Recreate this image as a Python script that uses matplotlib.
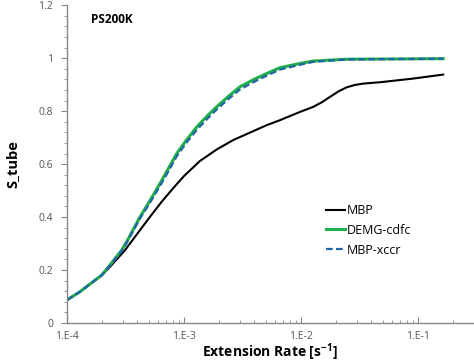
import numpy as np
import matplotlib
matplotlib.use("Agg")
import matplotlib.pyplot as plt
from matplotlib.ticker import FixedLocator, NullFormatter

plt.rcParams['font.family'] = ['Open Sans', 'DejaVu Sans']

# values (rate in 1/s, S_tube)
rate_mbp = [1.0e-4, 1.29e-4, 1.58e-4, 1.98e-4, 2.33e-4, 3.13e-4, 4.0e-4, 5.12e-4,
            6.5e-4, 8.11e-4, 1.0e-3, 1.37e-3, 1.9e-3, 2.64e-3, 3.8e-3, 5.09e-3,
            6.62e-3, 9.79e-3, 1.27e-2, 1.5e-2, 1.77e-2, 2.1e-2, 2.46e-2, 2.9e-2,
            3.41e-2, 4.73e-2, 9.12e-2, 1.64e-1]
s_mbp = [0.087, 0.118, 0.148, 0.180, 0.212, 0.275, 0.338, 0.401,
         0.460, 0.510, 0.555, 0.612, 0.655, 0.691, 0.722, 0.747,
         0.766, 0.797, 0.816, 0.833, 0.854, 0.875, 0.890, 0.899,
         0.904, 0.909, 0.923, 0.938]

rate_model = [1.0e-4, 1.29e-4, 1.58e-4, 1.98e-4, 2.33e-4, 2.93e-4, 3.24e-4, 4.21e-4,
              5.13e-4, 6.24e-4, 7.41e-4, 8.67e-4, 1.05e-3, 1.29e-3, 1.58e-3, 1.90e-3,
              2.40e-3, 3.01e-3, 3.98e-3, 5.09e-3, 6.62e-3, 9.79e-3, 1.27e-2, 2.46e-2,
              1.64e-1]
s_demg = [0.087, 0.118, 0.148, 0.181, 0.219, 0.275, 0.307, 0.401,
          0.463, 0.527, 0.586, 0.640, 0.691, 0.741, 0.782, 0.816,
          0.856, 0.892, 0.920, 0.942, 0.964, 0.980, 0.989, 0.996,
          0.998]
s_xccr = [0.087, 0.118, 0.148, 0.180, 0.217, 0.272, 0.303, 0.395,
          0.455, 0.518, 0.575, 0.630, 0.681, 0.730, 0.771, 0.806,
          0.846, 0.882, 0.911, 0.934, 0.957, 0.975, 0.986, 0.995,
          0.998]

fig = plt.figure(figsize=(4.74, 3.62), dpi=100)
ax = fig.add_axes([0.1414, 0.1077, 0.8565, 0.878])

ax.plot(rate_mbp, s_mbp, color='black', lw=1.5, label='MBP')
ax.plot(rate_model, s_demg, color='#1fae4a', lw=2.2, label='DEMG-cdfc')
ax.plot(rate_model, s_xccr, color='#2264a8', lw=1.6, ls=(0, (3, 1.5)), label='MBP-xccr')

ax.set_xscale('log')
ax.set_xlim(1e-4, 0.295)
ax.set_ylim(0, 1.2)

ax.set_xticks([1e-4, 1e-3, 1e-2, 1e-1])
ax.set_xticklabels(['1.E-4', '1.E-3', '1.E-2', '1.E-1'])
ax.xaxis.set_minor_locator(FixedLocator([m * 10.0**e for e in range(-4, 0) for m in range(2, 10)]))
ax.xaxis.set_minor_formatter(NullFormatter())
ax.set_yticks([0, 0.2, 0.4, 0.6, 0.8, 1.0, 1.2])
ax.set_yticklabels(['0', '0.2', '0.4', '0.6', '0.8', '1', '1.2'])
ax.yaxis.set_minor_locator(FixedLocator(np.arange(0, 1.21, 0.04)))

for s in ['top', 'right']:
    ax.spines[s].set_visible(False)
for s in ['left', 'bottom']:
    ax.spines[s].set_color('#868686')
    ax.spines[s].set_linewidth(1.0)

ax.tick_params(axis='x', which='major', direction='in', length=4, color='#868686',
               labelsize=7.5, labelcolor='#555555', pad=6)
ax.tick_params(axis='x', which='minor', direction='in', length=2.5, color='#868686')
ax.tick_params(axis='y', which='major', direction='out', length=4, color='#868686',
               labelsize=7.5, labelcolor='#555555', pad=6)
ax.tick_params(axis='y', which='minor', direction='out', length=2.5, color='#868686')

ax.set_xlabel('Extension Rate [s$^{\\mathregular{-1}}$]', fontsize=10, fontweight='bold', labelpad=-1)
ax.set_ylabel('S_tube', fontsize=10.5, fontweight='bold', labelpad=14)

ax.text(0.06, 0.975, 'PS200K', transform=ax.transAxes, fontsize=8.5, fontweight='bold',
        va='top', ha='left')

ax.legend(loc='upper left', bbox_to_anchor=(0.61, 0.41), frameon=False, fontsize=9,
          handlelength=1.5, handletextpad=0.2, labelspacing=0.55)

fig.savefig('out.png', dpi=100)
